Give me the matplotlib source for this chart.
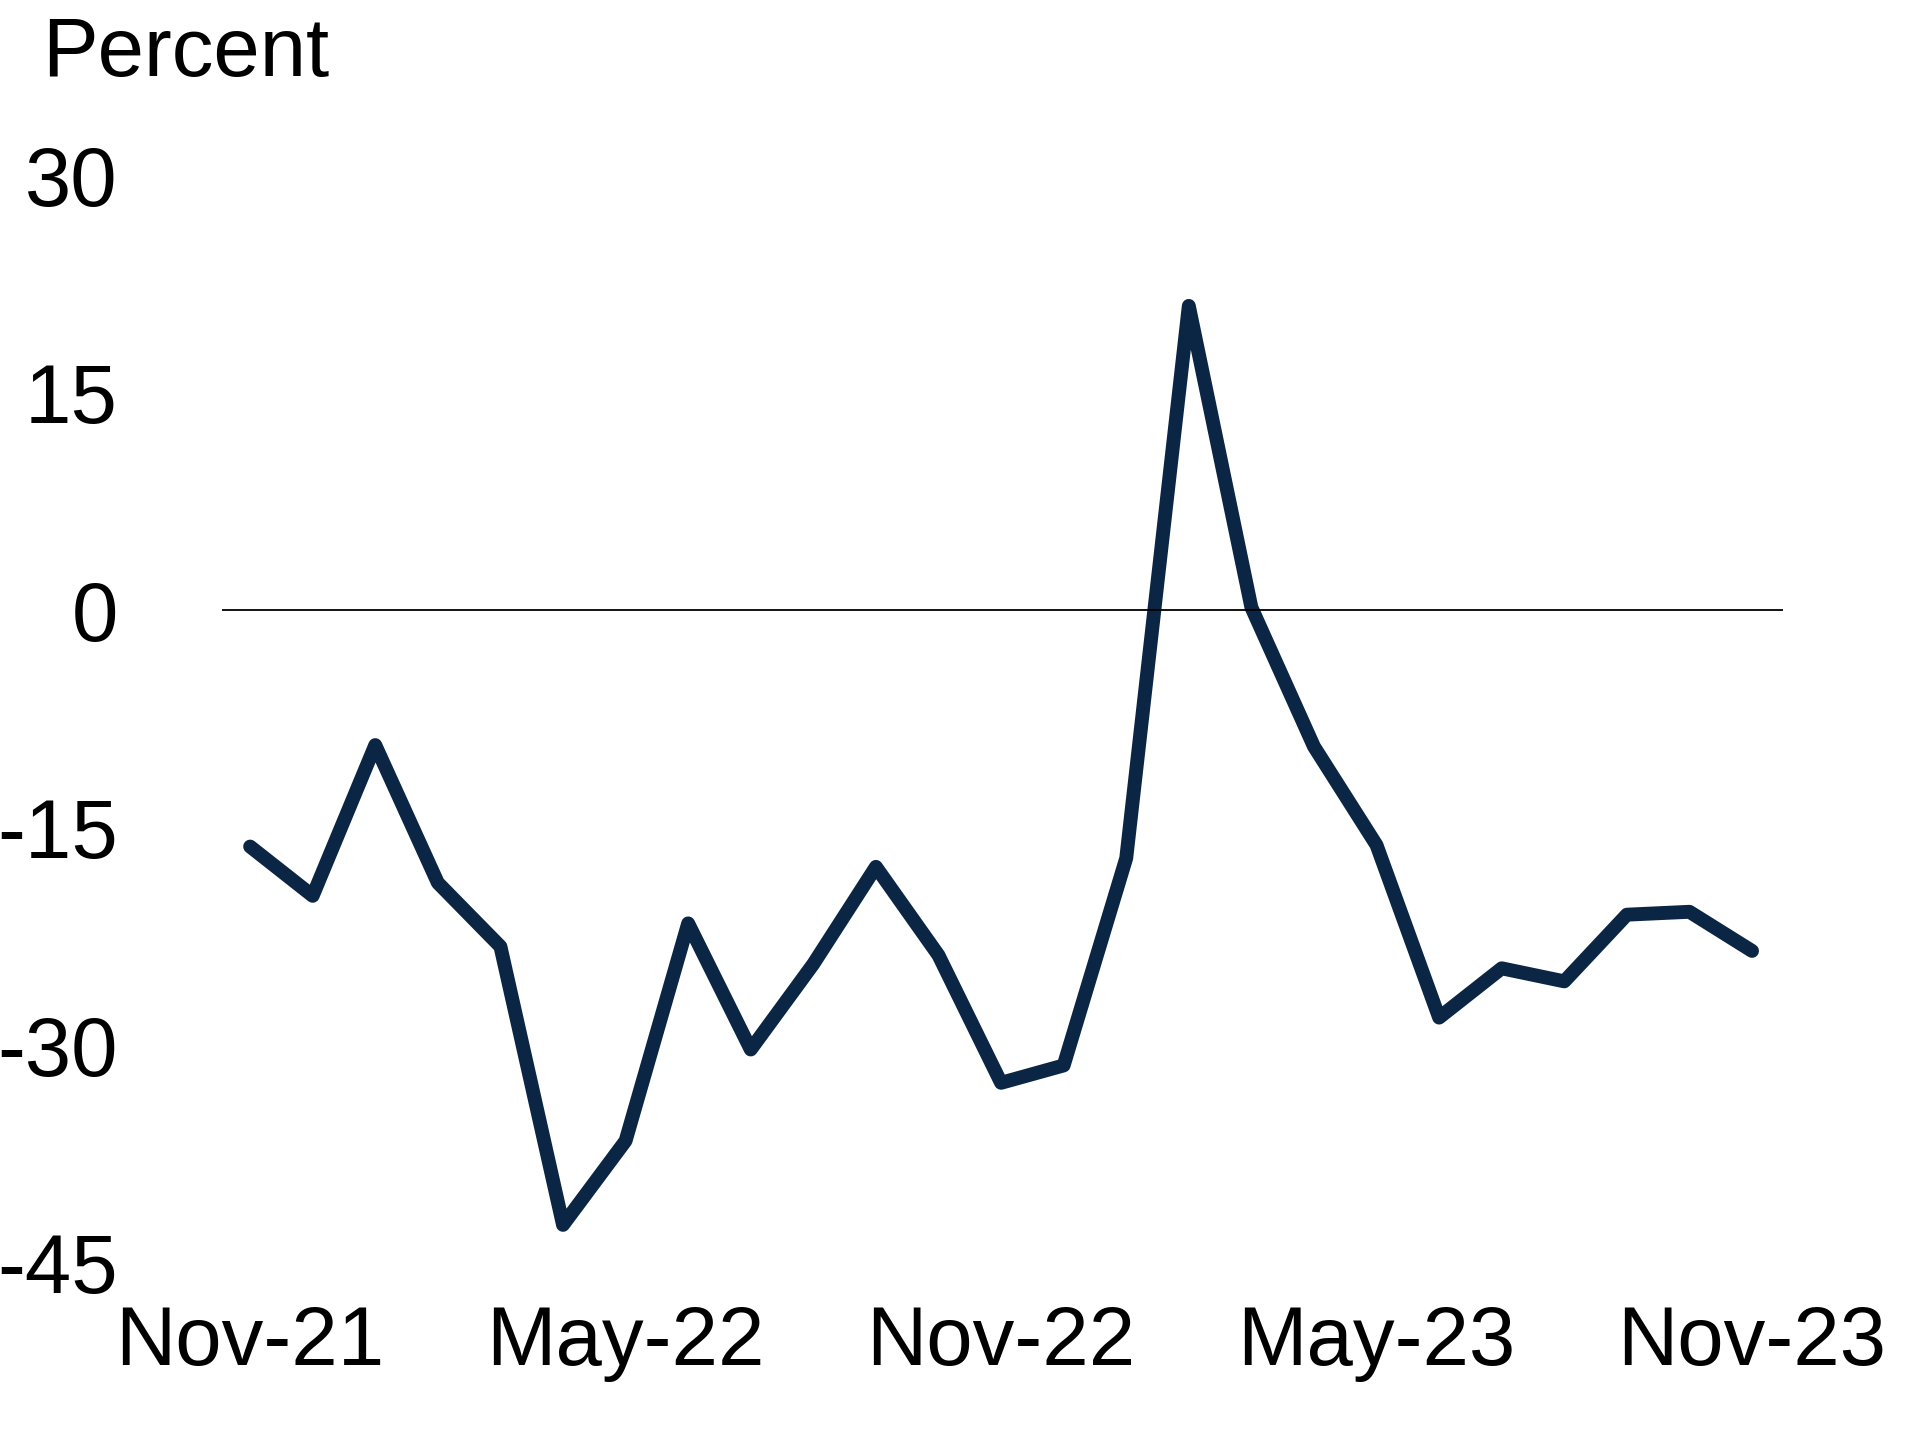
import matplotlib.pyplot as plt

plt.rcParams['font.family'] = ['Liberation Sans', 'DejaVu Sans']

months = list(range(25))
values = [-16.3, -19.7, -9.3, -18.8, -23.2, -42.4, -36.6, -21.6, -30.3, -24.4,
          -17.7, -23.8, -32.6, -31.4, -17.1, 21.0, 0.2, -9.4, -16.2, -28.1,
          -24.7, -25.6, -21.0, -20.8, -23.5]
tick_pos = [0, 6, 12, 18, 24]
tick_labels = ['Nov-21', 'May-22', 'Nov-22', 'May-23', 'Nov-23']
y_ticks = [30, 15, 0, -15, -30, -45]

fig = plt.figure(figsize=(19.3, 14.38), dpi=100)
ax = fig.add_axes([0.115, 0.122, 0.809, 0.756])
ax.plot(months, values, color='#0b2545', linewidth=10, solid_joinstyle='round', solid_capstyle='round')
ax.axhline(0, color='black', linewidth=1.3)
ax.set_xlim(-0.45, 24.5)
ax.set_ylim(-45, 30)
ax.set_yticks(y_ticks)
ax.set_yticklabels([str(v) for v in y_ticks])
ax.set_xticks(tick_pos)
ax.set_xticklabels(tick_labels)
ax.tick_params(length=0, labelsize=60)
ax.tick_params(axis='y', pad=75)
ax.tick_params(axis='x', pad=30)
for s in ax.spines.values():
    s.set_visible(False)
fig.text(0.022, 0.935, 'Percent', fontsize=60, va='bottom')
fig.savefig('out.png')
